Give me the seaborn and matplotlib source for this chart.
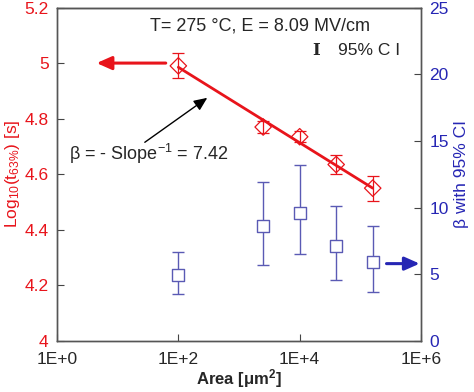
import numpy as np
import pandas as pd
import matplotlib
matplotlib.use("Agg")
import matplotlib.pyplot as plt
import seaborn as sns

# data
area = [1e2, 2.5e3, 1e4, 4e4, 1.6e5]
log_t63 = [4.99, 4.77, 4.735, 4.635, 4.55]
log_t63_err = [0.045, 0.02, 0.02, 0.035, 0.045]
beta = [4.95, 8.6, 9.6, 7.1, 5.95]
beta_low = [3.5, 5.7, 6.5, 4.6, 3.65]
beta_high = [6.65, 11.9, 13.2, 10.1, 8.65]
fit_area = [1e2, 1.6e5]
fit_log_t63 = [4.985, 4.55]
x_ticks = [1e0, 1e2, 1e4, 1e6]
x_labels = ["1E+0", "1E+2", "1E+4", "1E+6"]
left_ticks = [4.0, 4.2, 4.4, 4.6, 4.8, 5.0, 5.2]
left_labels = ["4", "4.2", "4.4", "4.6", "4.8", "5", "5.2"]
right_ticks = [0, 5, 10, 15, 20, 25]

RED = "#e8141b"
BLUE = "#2626b4"
BLUE_MK = "#5a5ab4"

sns.set_style("ticks")
plt.rcParams["font.family"] = ["Liberation Sans", "DejaVu Sans"]
plt.rcParams["mathtext.fontset"] = "custom"
plt.rcParams["mathtext.rm"] = "Liberation Sans"
plt.rcParams["mathtext.it"] = "Liberation Sans"
plt.rcParams["mathtext.bf"] = "Liberation Sans:bold"

df = pd.DataFrame({"area": area, "t63": log_t63, "beta": beta})

fig = plt.figure(figsize=(4.74, 3.92), dpi=100)
ax = fig.add_axes([57 / 474, 51 / 392, 364 / 474, 333.5 / 392])
ax2 = ax.twinx()

# red: log10(t63) vs area
ax.errorbar(area, log_t63, yerr=log_t63_err, fmt="none", ecolor=RED,
            elinewidth=0.9, capsize=4, capthick=0.9, zorder=3)
sns.lineplot(x=fit_area, y=fit_log_t63, ax=ax, color=RED, lw=2, zorder=4)
sns.scatterplot(data=df, x="area", y="t63", ax=ax, marker="D", s=70,
                facecolor="none", edgecolor=RED, linewidth=0.9, zorder=5)

# blue: beta vs area
yerr = [np.array(beta) - np.array(beta_low), np.array(beta_high) - np.array(beta)]
ax2.errorbar(area, beta, yerr=yerr, fmt="none", ecolor=BLUE_MK,
             elinewidth=1.0, capsize=4, capthick=1.0, zorder=3)
sns.scatterplot(data=df, x="area", y="beta", ax=ax2, marker="s", s=65,
                facecolor="white", edgecolor=BLUE_MK, linewidth=1.0, zorder=5)

ax.set_xscale("log")
ax.set_xlim(1, 1e6)
ax.set_ylim(4, 5.2)
ax2.set_ylim(0, 25)
ax.set_xticks(x_ticks)
ax.set_xticklabels(x_labels)
ax.minorticks_off()
ax.set_yticks(left_ticks)
ax.set_yticklabels(left_labels)
ax2.set_yticks(right_ticks)

ax.tick_params(axis="both", direction="in", length=5, width=0.8, labelsize=12.5, color="#444444")
ax.tick_params(axis="y", labelcolor=RED, pad=6)
ax.tick_params(axis="x", pad=8)
ax2.tick_params(axis="y", direction="in", length=5, width=0.8, labelsize=12.5,
                labelcolor=BLUE, color="#444444", pad=6)
for a in (ax, ax2):
    for s in a.spines.values():
        s.set_visible(True)
        s.set_color("#555555")
        s.set_linewidth(1.0)
ax.spines["top"].set_color("black")

ax.set_xlabel("Area [μm$\\mathbf{^2}$]", fontsize=12, fontweight="bold", labelpad=0)
ax.set_ylabel("Log$_{10}$(t$_{63\\%}$) [s]", fontsize=12.5, color=RED, labelpad=2)
ax2.set_ylabel("β with 95% CI", fontsize=12.5, color=BLUE, labelpad=4)

# annotations
ax.text(2.2e3, 5.132, "T= 275 °C, E = 8.09 MV/cm", fontsize=13, ha="center", va="center")
ax.text(4.3e4, 5.045, "95% C I", fontsize=12.5, ha="left", va="center")
ax.text(1.9e4, 5.045, "I", fontsize=12, fontweight="bold", family="DejaVu Serif",
        ha="center", va="center")
ax.text(1.6, 4.672, "β = - Slope$^{-1}$ = 7.42", fontsize=13, ha="left", va="center")
ax.annotate("", xy=(300, 4.875), xytext=(28, 4.715),
            arrowprops=dict(arrowstyle="-|>,head_length=0.8,head_width=0.35", color="black",
                            lw=1.0, shrinkA=0, shrinkB=0))
ax.annotate("", xy=(4.5, 5.0), xytext=(62, 5.0),
            arrowprops=dict(arrowstyle="-|>,head_length=0.9,head_width=0.4", color=RED,
                            lw=2.2, shrinkA=0, shrinkB=0))
ax2.annotate("", xy=(9.5e5, 5.8), xytext=(2.7e5, 5.8),
             arrowprops=dict(arrowstyle="-|>,head_length=0.9,head_width=0.4", color=BLUE,
                             lw=2.2, shrinkA=0, shrinkB=0))

fig.savefig("out.png", dpi=100)
